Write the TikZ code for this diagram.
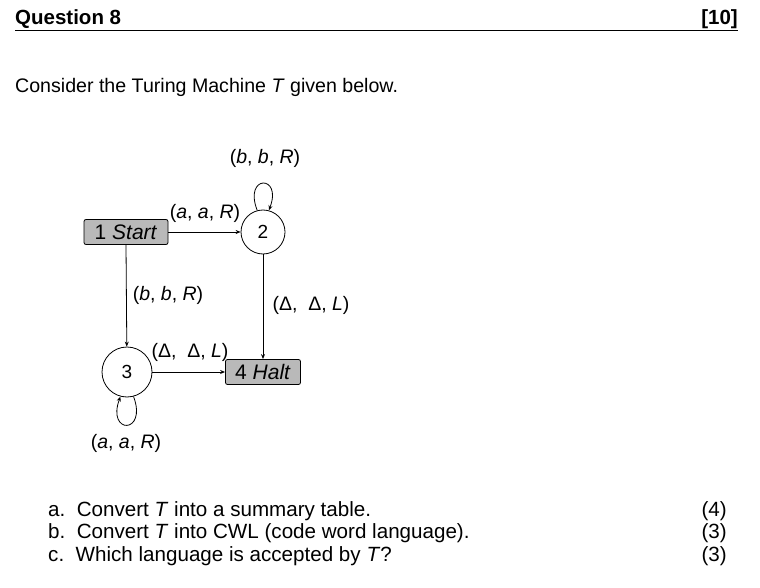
\documentclass[tikz,border=0pt]{standalone}
\usepackage{fontspec}
\setmainfont{Liberation Sans}
\usetikzlibrary{arrows.meta}
\begin{document}
\begin{tikzpicture}[x=1pt,y=-1pt,
  txt/.style={font=\fontsize{20.6}{22}\selectfont,inner sep=0pt},
  lbl/.style={font=\fontsize{19.5}{21}\selectfont,inner sep=0pt},
  state/.style={circle,draw,thick,minimum size=44pt,inner sep=0pt,font=\fontsize{19}{21}\selectfont},
  term/.style={rectangle,rounded corners=2pt,draw,thick,fill=gray!55,minimum height=25pt,inner sep=2pt,font=\fontsize{21}{23}\selectfont},
  edge/.style={draw,thick,-{Stealth[length=5pt,width=4pt]}}]
\useasboundingbox[fill=white] (0,0) rectangle (760,588);
\node[txt,anchor=base west,font=\fontsize{20.5}{22}\selectfont\bfseries] (q) at (15,25) {Question 8};
\node[txt,anchor=base east,font=\fontsize{20.5}{22}\selectfont\bfseries] (m) at (738,25) {[10]};
\coordinate (l1) at (15,30); \coordinate (l2) at (738,30);
\draw[thick] (l1) -- (l2);
\node[txt,anchor=base west,font=\fontsize{19.6}{22}\selectfont] (c) at (15,93) {Consider the Turing Machine \textit{T} given below.};

\node[term,minimum width=84pt] (s) at (126,232) {1\ \textit{Start}};
\node[state] (n2) at (263,232) {2};
\node[state,minimum size=50pt] (n3) at (127,372) {3};
\node[term,minimum width=75pt] (h) at (263,372) {4 \textit{Halt}};

\draw[edge] (s) -- (n2);
\draw[edge] (s.south) -- (n3);
\draw[edge] (n2) -- (h);
\draw[edge] (n3) -- (h);
\draw[edge] (n2.105) .. controls +(-14,-36) and +(14,-36) .. (n2.75);
\draw[edge] (n3.-75) .. controls +(14,38) and +(-14,38) .. (n3.-105);

\node[lbl] (e1) at (205,213) {(\textit{a}, \textit{a}, \textit{R})};
\node[lbl] (e2) at (265,158) {(\textit{b}, \textit{b}, \textit{R})};
\node[lbl] (e3) at (168,295) {(\textit{b}, \textit{b}, \textit{R})};
\node[lbl] (e4) at (311,305) {(Δ,\ \ Δ, \textit{L})};
\node[lbl] (e5) at (190,352) {(Δ,\ \ Δ, \textit{L})};
\node[lbl] (e6) at (126,443) {(\textit{a}, \textit{a}, \textit{R})};

\node[txt,anchor=base west] (a) at (48,516) {a.\ \ Convert \textit{T} into a summary table.};
\node[txt,anchor=base west] (b) at (48,538) {b.\ \ Convert \textit{T} into CWL (code word language).};
\node[txt,anchor=base west] (cc) at (48,561) {c.\ \ Which language is accepted by \textit{T}?};
\node[txt,anchor=base east] (pa) at (727,516) {(4)};
\node[txt,anchor=base east] (pb) at (727,538) {(3)};
\node[txt,anchor=base east] (pc) at (727,561) {(3)};
\end{tikzpicture}
\end{document}
